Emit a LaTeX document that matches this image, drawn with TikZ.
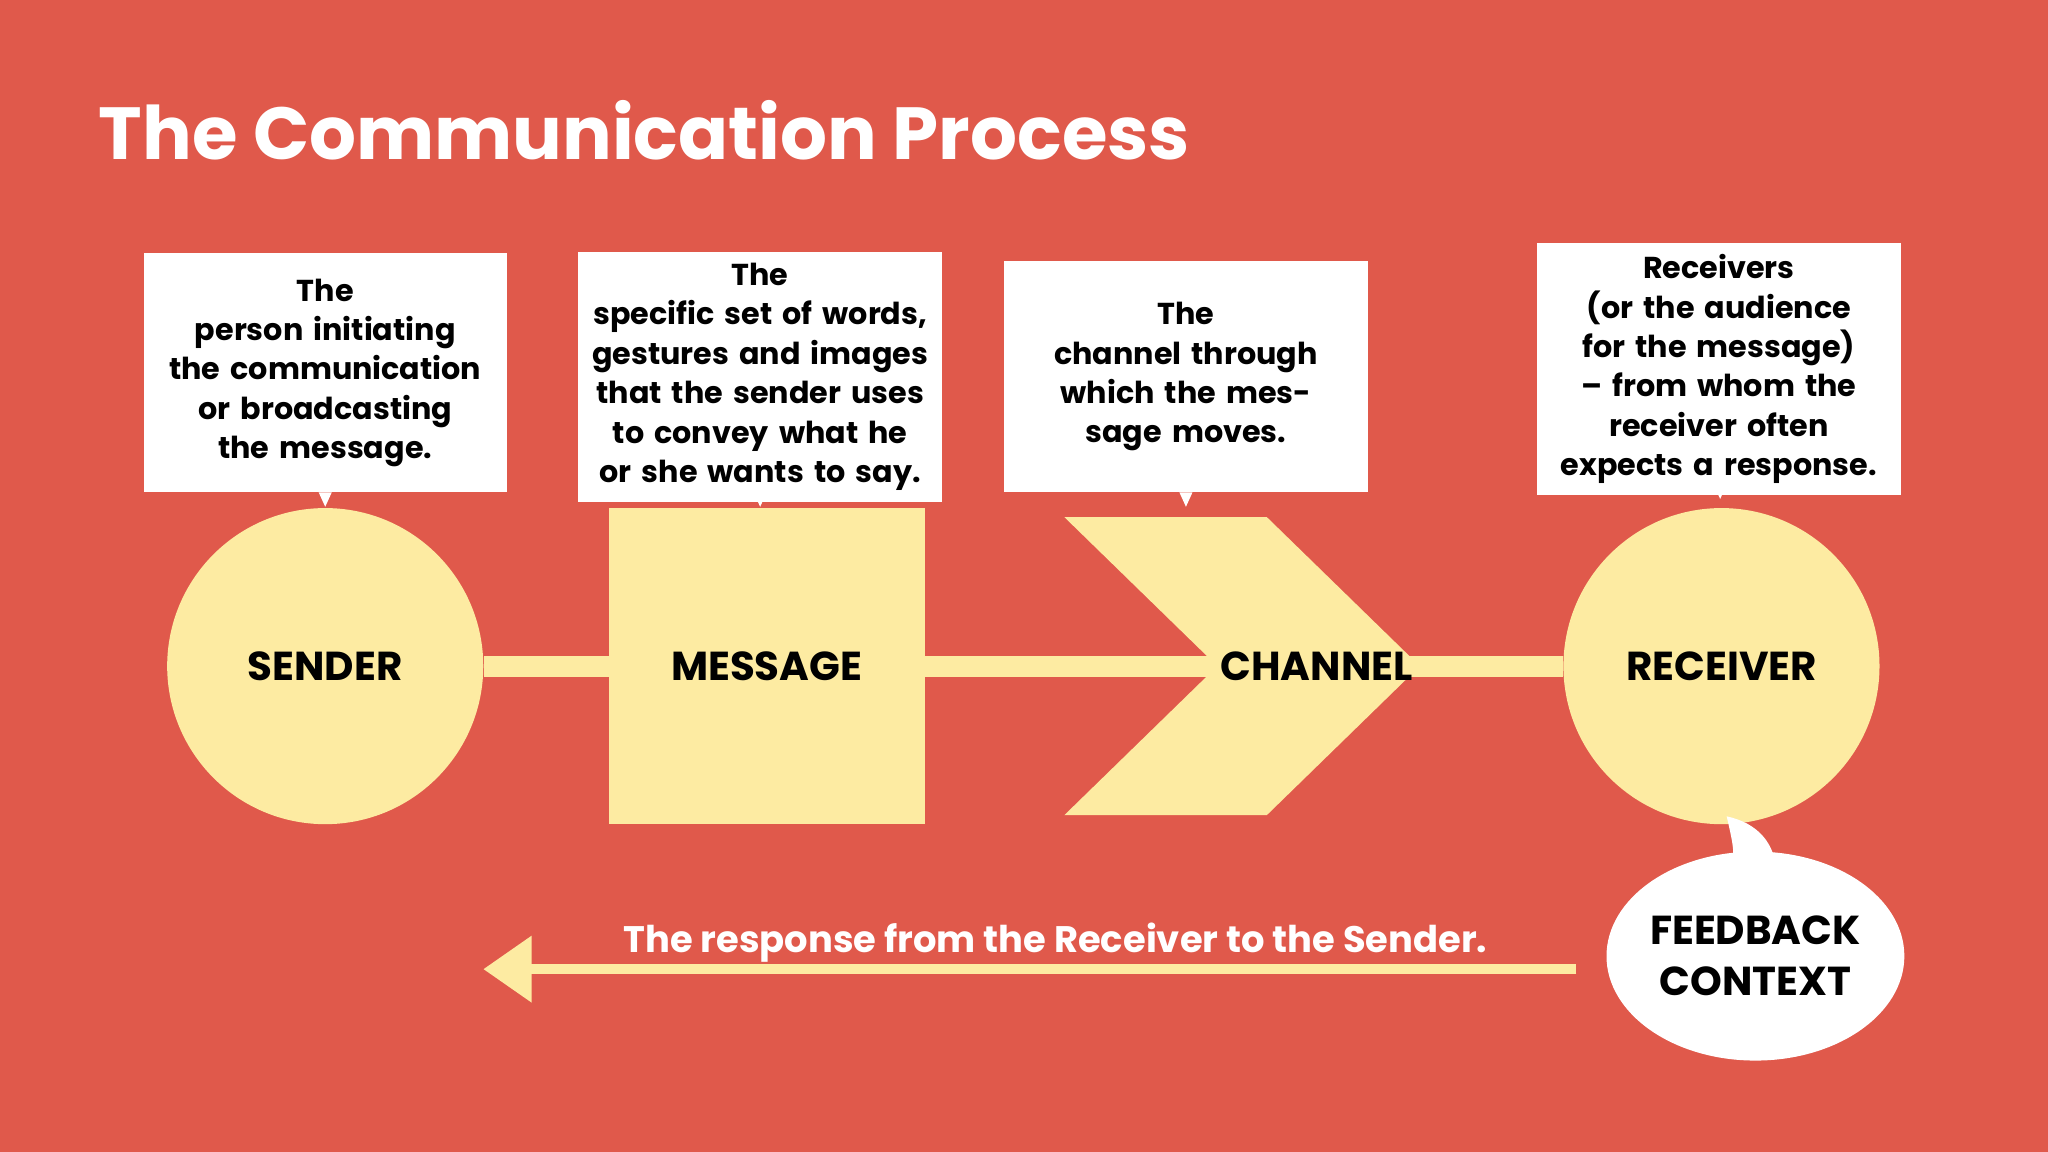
\documentclass[tikz,border=0pt]{standalone}
\usepackage{fontspec}
\setmainfont{Poppins}
\usetikzlibrary{arrows.meta,shapes.geometric}
\definecolor{bgred}{HTML}{E0594B}
\definecolor{pale}{HTML}{FDEBA2}
\tikzset{
    note/.style={fill=white, minimum width=3.605cm, text width=3.4cm, align=center,
        font=\bfseries\fontsize{8.6}{11.2}\selectfont},
    stage/.style={fill=pale, font=\bfseries\fontsize{11.5}{13}\selectfont},
}
\begin{document}
\begin{tikzpicture}[x=0.013061cm, y=-0.013061cm]
    \fill[bgred] (0,0) rectangle (1568,882);
    \node[anchor=base west, text=white, font=\bfseries\fontsize{21}{24}\selectfont, inner sep=0pt]
        (title) at (75,122) {The Communication Process};

    % stages
    \node[stage, circle, minimum size=3.161cm, inner sep=0pt] (sender) at (249,510) {SENDER};
    \node[stage, circle, minimum size=3.161cm, inner sep=0pt] (receiver) at (1318,510) {RECEIVER};
    \draw[pale, line width=0.209cm] (sender.east) -- (receiver.west);
    \node[stage, minimum size=3.161cm, inner sep=0pt] (message) at (587,510) {MESSAGE};
    \fill[pale] (815,396) -- (970,396) -- (1087,510) -- (970,624) -- (815,624) -- (932,510) -- cycle;
    \node[font=\bfseries\fontsize{11.5}{13}\selectfont, inner sep=0pt] (channel) at (1008,510) {CHANNEL};

    % notes
    \node[note, minimum height=2.39cm] (n1) at (249,285.5) {The\\person initiating the communication or broadcasting the message.};
    \node[note, minimum height=2.31cm] (n2) at (582,288.5) {The\\specific set of words, gestures and images that the sender uses to convey what he or she wants to say.};
    \node[note, minimum height=2.31cm] (n3) at (908,288.5) {The\\channel through which the message moves.};
    \node[note, minimum height=2.31cm] (n4) at (1316,282.5) {Receivers\\(or the audience for the message) -- from whom the receiver often expects a response.};
    \fill[white] (244,377) -- (254,377) -- (249,388) -- cycle;
    \fill[white] (577,377) -- (587,377) -- (582,388) -- cycle;
    \fill[white] (903,377) -- (913,377) -- (908,388) -- cycle;
    \fill[white] (1312,371) -- (1322,371) -- (1317,382) -- cycle;

    % feedback
    \fill[white] (1322,625) .. controls (1345,630) and (1360,645) .. (1360,670) -- (1310,680) .. controls (1330,660) .. (1322,625);
    \node[ellipse, fill=white, minimum width=2.9cm, minimum height=2.09cm, inner sep=0pt, align=center,
        font=\bfseries\fontsize{11.5}{14.5}\selectfont] (feedback) at (1344,732) {FEEDBACK\\CONTEXT};
    \coordinate (fbend) at (1207,742);
    \coordinate (fbtip) at (370,742);
    \draw[pale, line width=0.104cm, -{Triangle[length=0.483cm, width=0.64cm]}] (fbend) -- (fbtip);
    \node[text=white, font=\bfseries\fontsize{10.5}{12}\selectfont, inner sep=0pt] (fbtext) at (808,722)
        {The response from the Receiver to the Sender.};
\end{tikzpicture}
\end{document}
